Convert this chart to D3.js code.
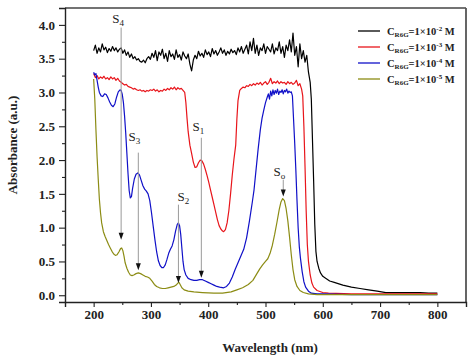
<!DOCTYPE html>
<html><head><meta charset="utf-8">
<script src="https://cdn.jsdelivr.net/npm/d3@7"></script>
<style>body{margin:0;background:#fff}svg{display:block}svg text{font-family:"Liberation Serif","Times New Roman",serif !important}</style>
</head><body>
<svg id="c" width="474" height="358"></svg>
<script>
// ---- data (wavelength nm, absorbance a.u.) ----
const xTicks = [200, 300, 400, 500, 600, 700, 800];
const xMinor = [250, 350, 450, 550, 650, 750];
const yTicks = [0, 0.5, 1, 1.5, 2, 2.5, 3, 3.5, 4];
const yMinor = [0.25, 0.75, 1.25, 1.75, 2.25, 2.75, 3.25, 3.75];

const seriesExp = ["-2", "-3", "-4", "-5"];
const seriesColors = ["#000000", "#e8151b", "#1010c8", "#8c8c14"];

const black = [[200,3.62],[203,3.70],[206,3.58],[209,3.66],[212,3.60],[215,3.72],[218,3.63],[221,3.67],[224,3.59],[227,3.65],[230,3.61],[233,3.68],[236,3.62],[239,3.66],[242,3.60],[245,3.64],[248,3.66],[251,3.58],[254,3.63],[257,3.55],[260,3.60],[263,3.52],[266,3.57],[269,3.50],[272,3.53],[275,3.48],[278,3.50],[281,3.46],[284,3.45],[287,3.48],[290,3.44],[293,3.50],[296,3.53],[299,3.49],[302,3.58],[305,3.52],[308,3.62],[311,3.47],[314,3.60],[317,3.55],[320,3.64],[323,3.50],[326,3.58],[329,3.46],[332,3.62],[335,3.53],[338,3.57],[341,3.49],[344,3.63],[347,3.52],[350,3.56],[353,3.48],[356,3.60],[359,3.54],[362,3.50],[365,3.57],[368,3.42],[371,3.32],[374,3.48],[377,3.55],[380,3.50],[383,3.61],[386,3.54],[389,3.58],[392,3.52],[395,3.63],[398,3.56],[401,3.60],[404,3.53],[407,3.65],[410,3.57],[413,3.62],[416,3.55],[419,3.60],[422,3.66],[425,3.58],[428,3.63],[431,3.55],[434,3.61],[437,3.57],[440,3.64],[443,3.59],[446,3.62],[449,3.56],[452,3.66],[455,3.60],[458,3.68],[461,3.58],[464,3.64],[467,3.70],[470,3.57],[473,3.75],[476,3.62],[479,3.80],[482,3.58],[485,3.70],[488,3.55],[491,3.66],[494,3.62],[497,3.72],[500,3.58],[503,3.68],[506,3.64],[509,3.60],[512,3.72],[515,3.57],[518,3.66],[521,3.62],[524,3.75],[527,3.58],[530,3.68],[533,3.52],[536,3.70],[539,3.62],[542,3.78],[545,3.60],[548,3.88],[551,3.55],[554,3.68],[557,3.38],[560,3.72],[563,3.50],[566,3.62],[569,3.45],[572,3.55],[575,3.30],[578,3.15],[580,2.90],[582,2.30],[584,1.70],[586,1.05],[588,0.65],[590,0.50],[593,0.40],[596,0.33],[600,0.28],[605,0.25],[612,0.21],[620,0.19],[635,0.15],[650,0.12],[665,0.10],[680,0.08],[695,0.06],[710,0.04],[730,0.04],[750,0.04],[770,0.04],[785,0.03],[800,0.03]];

const red = [[200,3.28],[203,3.22],[206,3.25],[209,3.20],[212,3.23],[215,3.21],[218,3.24],[221,3.20],[224,3.22],[227,3.19],[230,3.23],[233,3.20],[236,3.22],[239,3.18],[242,3.21],[245,3.17],[248,3.15],[251,3.13],[254,3.11],[257,3.12],[260,3.09],[263,3.08],[266,3.07],[269,3.05],[272,3.06],[275,3.04],[278,3.03],[281,3.04],[284,3.02],[287,3.03],[290,3.01],[293,3.03],[296,3.02],[299,3.04],[302,3.03],[305,3.05],[308,3.02],[311,3.04],[314,3.01],[317,3.03],[320,3.02],[323,3.05],[326,3.03],[329,3.06],[332,3.04],[335,3.07],[338,3.05],[341,3.08],[344,3.04],[347,3.07],[350,3.05],[353,3.06],[356,3.03],[359,3.00],[361,2.85],[363,2.62],[365,2.42],[368,2.22],[371,2.10],[374,1.97],[377,1.89],[380,1.90],[383,1.96],[386,2.00],[389,1.99],[392,1.94],[395,1.86],[398,1.77],[401,1.67],[404,1.56],[407,1.45],[410,1.34],[413,1.23],[416,1.12],[419,1.03],[422,0.98],[425,0.95],[427,0.94],[430,0.97],[433,1.07],[436,1.25],[439,1.50],[442,1.78],[445,2.02],[448,2.22],[450,2.60],[452,2.88],[455,3.03],[458,3.06],[461,3.08],[464,3.07],[467,3.10],[470,3.09],[473,3.12],[476,3.10],[479,3.13],[482,3.11],[485,3.14],[488,3.12],[491,3.15],[494,3.11],[497,3.14],[500,3.16],[503,3.12],[506,3.15],[509,3.21],[512,3.13],[515,3.16],[518,3.14],[521,3.17],[524,3.13],[527,3.16],[530,3.14],[533,3.15],[536,3.12],[539,3.16],[542,3.13],[545,3.15],[548,3.12],[551,3.14],[554,3.18],[557,3.10],[560,3.13],[563,3.05],[565,2.95],[567,2.50],[569,1.90],[571,1.25],[573,0.75],[575,0.50],[578,0.30],[581,0.18],[584,0.12],[590,0.07],[600,0.04],[610,0.03],[650,0.02],[700,0.02],[750,0.02],[800,0.02]];

const blue = [[200,3.30],[202,3.26],[204,3.28],[206,3.18],[208,3.08],[210,3.00],[213,2.95],[216,2.94],[219,2.98],[222,2.97],[225,2.92],[228,2.86],[231,2.81],[234,2.79],[237,2.83],[240,2.93],[243,3.01],[246,3.04],[248,3.03],[250,2.97],[252,2.85],[254,2.65],[256,2.40],[258,2.10],[260,1.80],[262,1.55],[264,1.44],[266,1.46],[268,1.58],[271,1.72],[274,1.79],[277,1.81],[280,1.78],[283,1.70],[286,1.62],[289,1.57],[292,1.54],[295,1.50],[298,1.40],[301,1.22],[304,1.02],[307,0.82],[310,0.64],[313,0.51],[316,0.44],[319,0.41],[322,0.41],[325,0.45],[328,0.53],[331,0.62],[334,0.68],[337,0.73],[340,0.82],[343,0.95],[346,1.05],[348,1.07],[350,1.03],[352,0.90],[354,0.70],[356,0.50],[358,0.38],[361,0.30],[365,0.25],[370,0.23],[375,0.22],[380,0.22],[385,0.23],[390,0.23],[395,0.21],[400,0.19],[405,0.17],[410,0.15],[415,0.13],[420,0.12],[427,0.11],[432,0.13],[437,0.18],[442,0.27],[447,0.38],[452,0.48],[457,0.58],[462,0.68],[467,0.85],[472,1.10],[477,1.38],[480,1.56],[484,1.90],[487,2.15],[491,2.45],[494,2.62],[497,2.74],[500,2.85],[503,2.93],[505,2.98],[507,2.90],[509,3.02],[511,2.95],[513,3.04],[515,2.97],[517,3.03],[519,2.99],[521,3.05],[523,2.97],[525,3.02],[527,3.00],[529,3.04],[531,2.98],[533,3.03],[535,3.01],[537,3.05],[539,2.99],[541,3.02],[543,3.00],[545,3.01],[547,2.95],[549,2.60],[551,2.25],[553,1.85],[555,1.40],[557,1.00],[559,0.72],[561,0.55],[564,0.35],[567,0.20],[570,0.12],[575,0.06],[580,0.03],[590,0.02],[600,0.02],[650,0.01],[700,0.01],[750,0.01],[800,0.01]];

const olive = [[200,3.20],[202,2.90],[204,2.45],[206,2.05],[208,1.72],[210,1.42],[212,1.22],[214,1.07],[217,0.94],[220,0.87],[223,0.81],[226,0.75],[229,0.70],[232,0.65],[235,0.61],[238,0.59],[241,0.60],[244,0.64],[247,0.69],[249,0.70],[251,0.66],[253,0.58],[255,0.48],[258,0.40],[261,0.34],[264,0.30],[267,0.29],[270,0.30],[274,0.32],[278,0.33],[282,0.32],[286,0.30],[290,0.28],[294,0.27],[298,0.25],[302,0.21],[306,0.16],[310,0.13],[315,0.11],[320,0.10],[325,0.10],[330,0.11],[335,0.12],[340,0.13],[344,0.15],[347,0.18],[349,0.19],[351,0.16],[354,0.11],[358,0.08],[365,0.06],[375,0.05],[390,0.04],[410,0.03],[425,0.03],[440,0.05],[450,0.08],[460,0.11],[470,0.16],[478,0.22],[485,0.32],[490,0.39],[495,0.45],[500,0.50],[504,0.54],[508,0.62],[512,0.74],[516,0.90],[520,1.08],[524,1.27],[527,1.38],[530,1.43],[533,1.40],[536,1.28],[539,1.10],[542,0.86],[545,0.60],[548,0.38],[551,0.23],[555,0.13],[560,0.07],[566,0.04],[575,0.02],[590,0.01],[620,0.01],[650,0.01],[700,0.01],[750,0.01],[800,0.01]];

// annotations: label, subscript, wavelength, line top value, arrow tip value
const annLabels = ["S", "S", "S", "S", "S"];
const annSubs = ["4", "3", "2", "1", "o"];
const annNm = [248, 278, 348, 388, 531];
const annTop = [3.96, 2.11, 1.34, 2.33, 1.71];
const annTip = [0.82, 0.37, 0.18, 0.26, 1.46];

// ---- drawing ----
const FONT = "'Liberation Serif','Times New Roman',serif";
const svg = d3.select("#c");
const x = d3.scaleLinear().domain([150, 850]).range([65, 466]);
const y = d3.scaleLinear().domain([-0.1, 4.25]).range([302, 8]);

// frame top/right
svg.append("line").attr("x1", 65).attr("x2", 466).attr("y1", 8).attr("y2", 8).attr("stroke", "#444").attr("stroke-width", 1.3);
svg.append("line").attr("x1", 466).attr("x2", 466).attr("y1", 8).attr("y2", 302).attr("stroke", "#555").attr("stroke-width", 1.8);

// curves
const line = d3.line().x(d => x(d[0])).y(d => y(d[1])).curve(d3.curveLinear);
const all = [black, red, blue, olive];
all.forEach((s, i) => {
  svg.append("path").datum(s).attr("d", line).attr("fill", "none")
    .attr("stroke", seriesColors[i]).attr("stroke-width", 1.2).attr("stroke-linejoin", "round");
});

// axes
svg.append("g").attr("transform", "translate(0,302)")
  .call(d3.axisBottom(x).tickValues(xTicks).tickSize(5).tickPadding(3).tickFormat(d3.format("d")));
svg.append("g").attr("transform", "translate(0,302)")
  .call(d3.axisBottom(x).tickValues(xMinor).tickSize(3).tickFormat(""))
  .select(".domain").remove();
svg.append("g").attr("transform", "translate(65,0)")
  .call(d3.axisLeft(y).tickValues(yTicks).tickSize(6).tickPadding(4).tickFormat(d3.format(".1f")));
svg.append("g").attr("transform", "translate(65,0)")
  .call(d3.axisLeft(y).tickValues(yMinor).tickSize(3).tickFormat(""))
  .select(".domain").remove();
svg.selectAll("g").attr("font-family", FONT);
svg.selectAll(".domain").attr("stroke", "#222").attr("stroke-width", 1.4);
svg.selectAll(".tick line").attr("stroke", "#222").attr("stroke-width", 1.1);
svg.selectAll(".tick text").style("font-family", FONT)
  .attr("font-weight", "bold").attr("font-size", 13).attr("fill", "#222");

// axis titles
svg.append("text").attr("x", 270).attr("y", 352).attr("text-anchor", "middle").style("font-family", FONT)
  .attr("font-weight", "bold").attr("font-size", 13).attr("fill", "#222").text("Wavelength (nm)");
svg.append("text").attr("transform", "translate(17,145) rotate(-90)").attr("text-anchor", "middle").style("font-family", FONT)
  .attr("font-weight", "bold").attr("font-size", 13).attr("fill", "#222").text("Absorbance (a.u.)");

// annotations
const labelDx = [-3, -4, 5, -3, -4];
const labelDy = [-5, -12, -4, -7, -4];
annNm.forEach((nm, i) => {
  const px = x(nm), y0 = y(annTop[i]), y1 = y(annTip[i]);
  svg.append("line").attr("x1", px).attr("x2", px).attr("y1", y0).attr("y2", y1 - 6)
    .attr("stroke", "#9a9a9a").attr("stroke-width", 1);
  svg.append("path").attr("d", `M${px - 2.5},${y1 - 7} L${px + 2.5},${y1 - 7} L${px},${y1} Z`).attr("fill", "#111");
  const t = svg.append("text").attr("x", px + labelDx[i]).attr("y", y0 + labelDy[i]).style("font-family", FONT)
    .attr("text-anchor", "middle").attr("font-size", 13).attr("fill", "#222");
  t.append("tspan").text(annLabels[i]);
  t.append("tspan").attr("font-size", 9).attr("dy", 3).text(annSubs[i]);
});

// legend
const legY = [31, 47, 63, 79];
seriesExp.forEach((e, i) => {
  svg.append("line").attr("x1", 358).attr("x2", 380).attr("y1", legY[i]).attr("y2", legY[i])
    .attr("stroke", seriesColors[i]).attr("stroke-width", 1.3);
  const t = svg.append("text").attr("x", 387).attr("y", legY[i] + 3.5).style("font-family", FONT)
    .attr("font-weight", "bold").attr("font-size", 10.5).attr("fill", "#222");
  t.append("tspan").text("C");
  t.append("tspan").attr("font-size", 7).attr("dy", 2.5).text("R6G");
  t.append("tspan").attr("dy", -2.5).text("=1×10");
  t.append("tspan").attr("font-size", 7).attr("dy", -4).text(e);
  t.append("tspan").attr("dy", 4).text(" M");
});
</script>
</body></html>
